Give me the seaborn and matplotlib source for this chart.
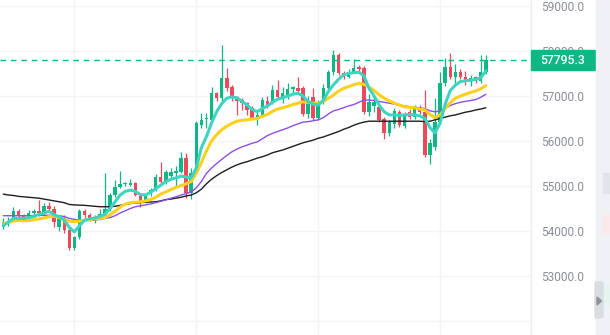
import numpy as np
import pandas as pd
import matplotlib
matplotlib.use("Agg")
import matplotlib.pyplot as plt
import matplotlib.transforms as mtransforms
from matplotlib.patches import Rectangle, FancyBboxPatch, Polygon
import seaborn as sns

# OHLC candles
opens = [54100, 54170, 54300, 54440, 54330, 54280, 54390, 54450, 54400, 54560,
         54500, 54100, 54300, 54030, 53620, 53860, 54440, 54350, 54230, 54300,
         54380, 54480, 54800, 54980, 55040, 55030, 55060, 54800, 54650, 54820,
         54910, 55190, 55100, 55220, 55300, 55320, 55620, 54850, 55300, 56360,
         56480, 56470, 57060, 56950, 57410, 57200, 56980, 56910, 56840, 56730,
         56510, 56580, 56890, 56870, 57130, 56980, 57000, 57150, 57180, 57170,
         56610, 56980, 56510, 56870, 57170, 57540, 57910, 57520, 57430, 57540,
         57640, 57620, 56650, 56770, 56760, 56500, 56170, 56370, 56650, 56340,
         56640, 56540, 56740, 56650, 55690, 55870, 56430, 57280, 57650, 57430,
         57540, 57430, 57330, 57420, 57340, 57540]
highs = [54300, 54320, 54530, 54500, 54380, 54460, 54500, 54700, 54620, 54640,
         54560, 54350, 54350, 54060, 53900, 54500, 54490, 54400, 54350, 54480,
         55290, 54850, 55130, 55340, 55100, 55160, 55100, 54830, 54850, 54960,
         55270, 55530, 55360, 55400, 55450, 55760, 55730, 55400, 56450, 56620,
         56620, 57200, 57100, 58130, 57620, 57250, 57000, 56960, 56870, 56780,
         56640, 56970, 57000, 57240, 57360, 57200, 57280, 57230, 57430, 57230,
         56990, 57180, 56920, 57260, 57580, 58020, 57950, 57560, 57600, 57820,
         57680, 57660, 57050, 56980, 56800, 56540, 56460, 56730, 56700, 56650,
         56710, 56800, 56790, 57130, 56050, 56960, 57530, 57840, 57950, 57700,
         57600, 57560, 57460, 57450, 57910, 57910]
lows = [54050, 54120, 54250, 54280, 54220, 54250, 54350, 54340, 54360, 54450,
        54100, 54000, 53950, 53570, 53570, 53820, 54300, 54220, 54170, 54250,
        54330, 54440, 54760, 54950, 55000, 54990, 54780, 54540, 54620, 54780,
        54880, 55050, 55050, 55150, 54990, 55280, 54730, 54720, 55280, 56280,
        56300, 56420, 56900, 56900, 57120, 56900, 56580, 56700, 56580, 56480,
        56360, 56540, 56740, 56820, 56950, 56850, 56940, 57060, 57100, 56560,
        56510, 56460, 56460, 56820, 57130, 57470, 57460, 57380, 57390, 57500,
        57530, 56600, 56560, 56650, 56420, 56040, 56120, 56300, 56320, 56300,
        56480, 56490, 56600, 55650, 55500, 55800, 56380, 57230, 57380, 57260,
        57380, 57250, 57230, 57280, 57300, 57480]
closes = [54210, 54230, 54440, 54330, 54280, 54400, 54450, 54390, 54560, 54500,
          54200, 54300, 54030, 53620, 53860, 54440, 54350, 54280, 54300, 54380,
          54480, 54800, 54980, 55040, 55060, 55070, 54800, 54650, 54800, 54910,
          55190, 55100, 55320, 55320, 55340, 55620, 54850, 55300, 56390, 56470,
          56520, 57060, 56950, 57410, 57170, 56980, 56890, 56840, 56690, 56510,
          56580, 56910, 56800, 57130, 56980, 57070, 57150, 57200, 57120, 56610,
          56870, 56510, 56870, 57170, 57540, 57910, 57500, 57430, 57530, 57620,
          57590, 56650, 56870, 56870, 56470, 56170, 56420, 56670, 56360, 56580,
          56540, 56730, 56650, 55690, 55950, 56430, 57280, 57650, 57430, 57540,
          57430, 57320, 57400, 57340, 57540, 57795.3]

# Moving-average overlays, one value per candle
ma_fast = [54120, 54200, 54280, 54280, 54280, 54300, 54320, 54370, 54400, 54440,
           54360, 54320, 54240, 54080, 53980, 54120, 54240, 54270, 54290, 54320,
           54370, 54500, 54650, 54800, 54880, 54910, 54880, 54810, 54800, 54860,
           54940, 55020, 55100, 55150, 55180, 55220, 55200, 55180, 55400, 55850,
           56100, 56400, 56650, 56830, 56950, 56980, 56960, 56880, 56800, 56700,
           56650, 56720, 56780, 56860, 56930, 56960, 57000, 57040, 57060, 57000,
           56880, 56820, 56800, 56900, 57100, 57250, 57370, 57470, 57500, 57520,
           57530, 57450, 57170, 57000, 56800, 56650, 56580, 56580, 56570, 56580,
           56590, 56580, 56560, 56500, 56300, 56180, 56400, 56820, 57120, 57240,
           57320, 57340, 57350, 57370, 57400, 57560]
ma_mid = [54160, 54190, 54220, 54230, 54230, 54230, 54250, 54270, 54290, 54320,
          54330, 54300, 54260, 54220, 54210, 54220, 54240, 54250, 54270, 54280,
          54300, 54360, 54440, 54530, 54600, 54630, 54640, 54650, 54670, 54700,
          54750, 54820, 54870, 54920, 54970, 55010, 55050, 55100, 55290, 55520,
          55780, 56000, 56140, 56250, 56330, 56390, 56440, 56460, 56470, 56490,
          56500, 56550, 56590, 56660, 56710, 56740, 56770, 56810, 56840, 56870,
          56860, 56840, 56840, 56880, 56950, 57020, 57110, 57170, 57210, 57250,
          57280, 57260, 57200, 57120, 57030, 56950, 56890, 56840, 56800, 56760,
          56750, 56740, 56710, 56690, 56590, 56520, 56580, 56720, 56850, 56950,
          57000, 57040, 57080, 57110, 57160, 57230]
ma_slow = [54340, 54340, 54340, 54340, 54340, 54340, 54345, 54350, 54350, 54350,
           54345, 54340, 54320, 54280, 54260, 54240, 54240, 54240, 54240, 54260,
           54280, 54300, 54340, 54400, 54450, 54500, 54540, 54560, 54580, 54600,
           54630, 54660, 54690, 54730, 54760, 54800, 54830, 54870, 54960, 55100,
           55280, 55400, 55500, 55590, 55680, 55760, 55820, 55870, 55910, 55950,
           55980, 56050, 56120, 56170, 56210, 56250, 56290, 56340, 56380, 56420,
           56430, 56450, 56470, 56520, 56600, 56670, 56700, 56740, 56780, 56810,
           56860, 56910, 56910, 56900, 56880, 56860, 56840, 56820, 56790, 56780,
           56760, 56750, 56740, 56720, 56670, 56650, 56670, 56720, 56790, 56830,
           56860, 56880, 56900, 56920, 56970, 57040]
ma_long = [54820, 54800, 54790, 54770, 54760, 54750, 54740, 54730, 54710, 54690,
           54670, 54650, 54630, 54590, 54580, 54575, 54570, 54560, 54550, 54540,
           54540, 54540, 54550, 54570, 54590, 54610, 54620, 54630, 54640, 54645,
           54650, 54670, 54700, 54710, 54730, 54750, 54780, 54800, 54850, 54930,
           55050, 55150, 55230, 55300, 55360, 55420, 55470, 55510, 55540, 55580,
           55620, 55650, 55690, 55740, 55770, 55800, 55840, 55880, 55920, 55960,
           55990, 56020, 56060, 56090, 56130, 56170, 56210, 56260, 56300, 56350,
           56390, 56420, 56440, 56440, 56440, 56440, 56440, 56440, 56440, 56440,
           56440, 56440, 56440, 56430, 56440, 56470, 56500, 56530, 56560, 56580,
           56610, 56640, 56660, 56690, 56710, 56740]

price_ticks = [53000, 54000, 55000, 56000, 57000, 58000, 59000]
time_ticks = [14, 38, 62, 86]

UP = "#0eb784"
DOWN = "#ea4a5a"

sns.set_theme(style="white")
plt.rcParams["font.family"] = ["Roboto", "DejaVu Sans"]

df = pd.DataFrame({"o": opens, "h": highs, "l": lows, "c": closes,
                   "fast": ma_fast, "mid": ma_mid, "slow": ma_slow, "long": ma_long})
df["i"] = np.arange(len(df))
df["up"] = df["c"] >= df["o"]
colors = np.where(df["up"], UP, DOWN)

W, H = 610, 335
fig = plt.figure(figsize=(W / 100, H / 100), dpi=100)
fig.patch.set_facecolor("white")
ax = fig.add_axes([0, 0, 531 / W, 1])
ax.set_facecolor("white")

# wicks and bodies
ax.vlines(df["i"], df["l"], df["h"], colors=colors, lw=0.9, zorder=2)
body_h = np.maximum((df["c"] - df["o"]).abs(), 25)
body_b = np.minimum(df["o"], df["c"])
ax.bar(df["i"], body_h, bottom=body_b, width=0.68, color=colors, lw=0, zorder=3)

# moving averages
sns.lineplot(data=df, x="i", y="long", ax=ax, color="#1e1e1e", lw=1.0, zorder=4)
sns.lineplot(data=df, x="i", y="slow", ax=ax, color="#8b4fe6", lw=1.0, zorder=4)
sns.lineplot(data=df, x="i", y="mid", ax=ax, color="#fcd01c", lw=2.2, zorder=5)
sns.lineplot(data=df, x="i", y="fast", ax=ax, color="#3fd3c2", lw=2.2, zorder=6)

last = closes[-1]
ax.axhline(last, color=UP, lw=1.0, ls=(0, (4, 3.5)), zorder=7)

ax.set_xlim(-0.65, 103.9)
ax.set_ylim(51690, 59133)
ax.set_xlabel("")
ax.set_ylabel("")

ax.set_xticks(time_ticks)
ax.set_xticklabels([])
ax.set_yticks(price_ticks + [52000])
ax.set_yticklabels([f"{v:.1f}" for v in price_ticks] + [""])
ax.yaxis.tick_right()
ax.tick_params(axis="y", length=0, pad=7.5, labelsize=8.6, labelcolor="#8a8f99")
ax.tick_params(axis="x", length=0)
for lab in ax.get_yticklabels():
    lab.set_horizontalalignment("left")
ax.grid(True, color="#f3f4f6", lw=1.0, zorder=0)
for side in ["top", "left", "bottom"]:
    ax.spines[side].set_visible(False)
ax.spines["right"].set_color("#eceef1")
ax.spines["right"].set_linewidth(1.0)

# last-price tag on the price scale
trans = mtransforms.blended_transform_factory(ax.transAxes, ax.transData)
tag_h = 20 * (59133 - 51690) / H
ax.add_patch(Rectangle((1.0, last - tag_h / 2), (595 - 531) / 531, tag_h,
                       transform=trans, color=UP, clip_on=False, zorder=10))
ax.text(562.5 / 531, last, f"{last:.1f}", transform=trans, ha="center",
        va="center", color="white", fontsize=8.8, fontweight="medium",
        zorder=11, clip_on=False)

# side toolbar strip
fig.patches.append(Rectangle((596 / W, 0), 14 / W, 1, transform=fig.transFigure,
                             color="#eff1f4", zorder=0))
fig.patches.append(Rectangle((603 / W, 1 - 193 / H), 7 / W, 20 / H,
                             transform=fig.transFigure, color="#e1e4e9", zorder=1))
fig.patches.append(Rectangle((603 / W, 1 - 233 / H), 7 / W, 18 / H,
                             transform=fig.transFigure, color="#fbe9eb", zorder=1))
fig.patches.append(Rectangle((603 / W, 1 - 304 / H), 7 / W, 17 / H,
                             transform=fig.transFigure, color="#e3f5ee", zorder=1))
fig.patches.append(FancyBboxPatch((595 / W, 1 - 318 / H), 8 / W, 36 / H,
                                  boxstyle="round,pad=0,rounding_size=0.004",
                                  transform=fig.transFigure, color="#d9dce1", zorder=2))
fig.patches.append(Polygon([(597 / W, 1 - 297 / H), (597 / W, 1 - 305 / H),
                            (601.5 / W, 1 - 301 / H)], closed=True,
                           transform=fig.transFigure, color="#8e939c", zorder=3))

fig.savefig("out.png", dpi=100)
